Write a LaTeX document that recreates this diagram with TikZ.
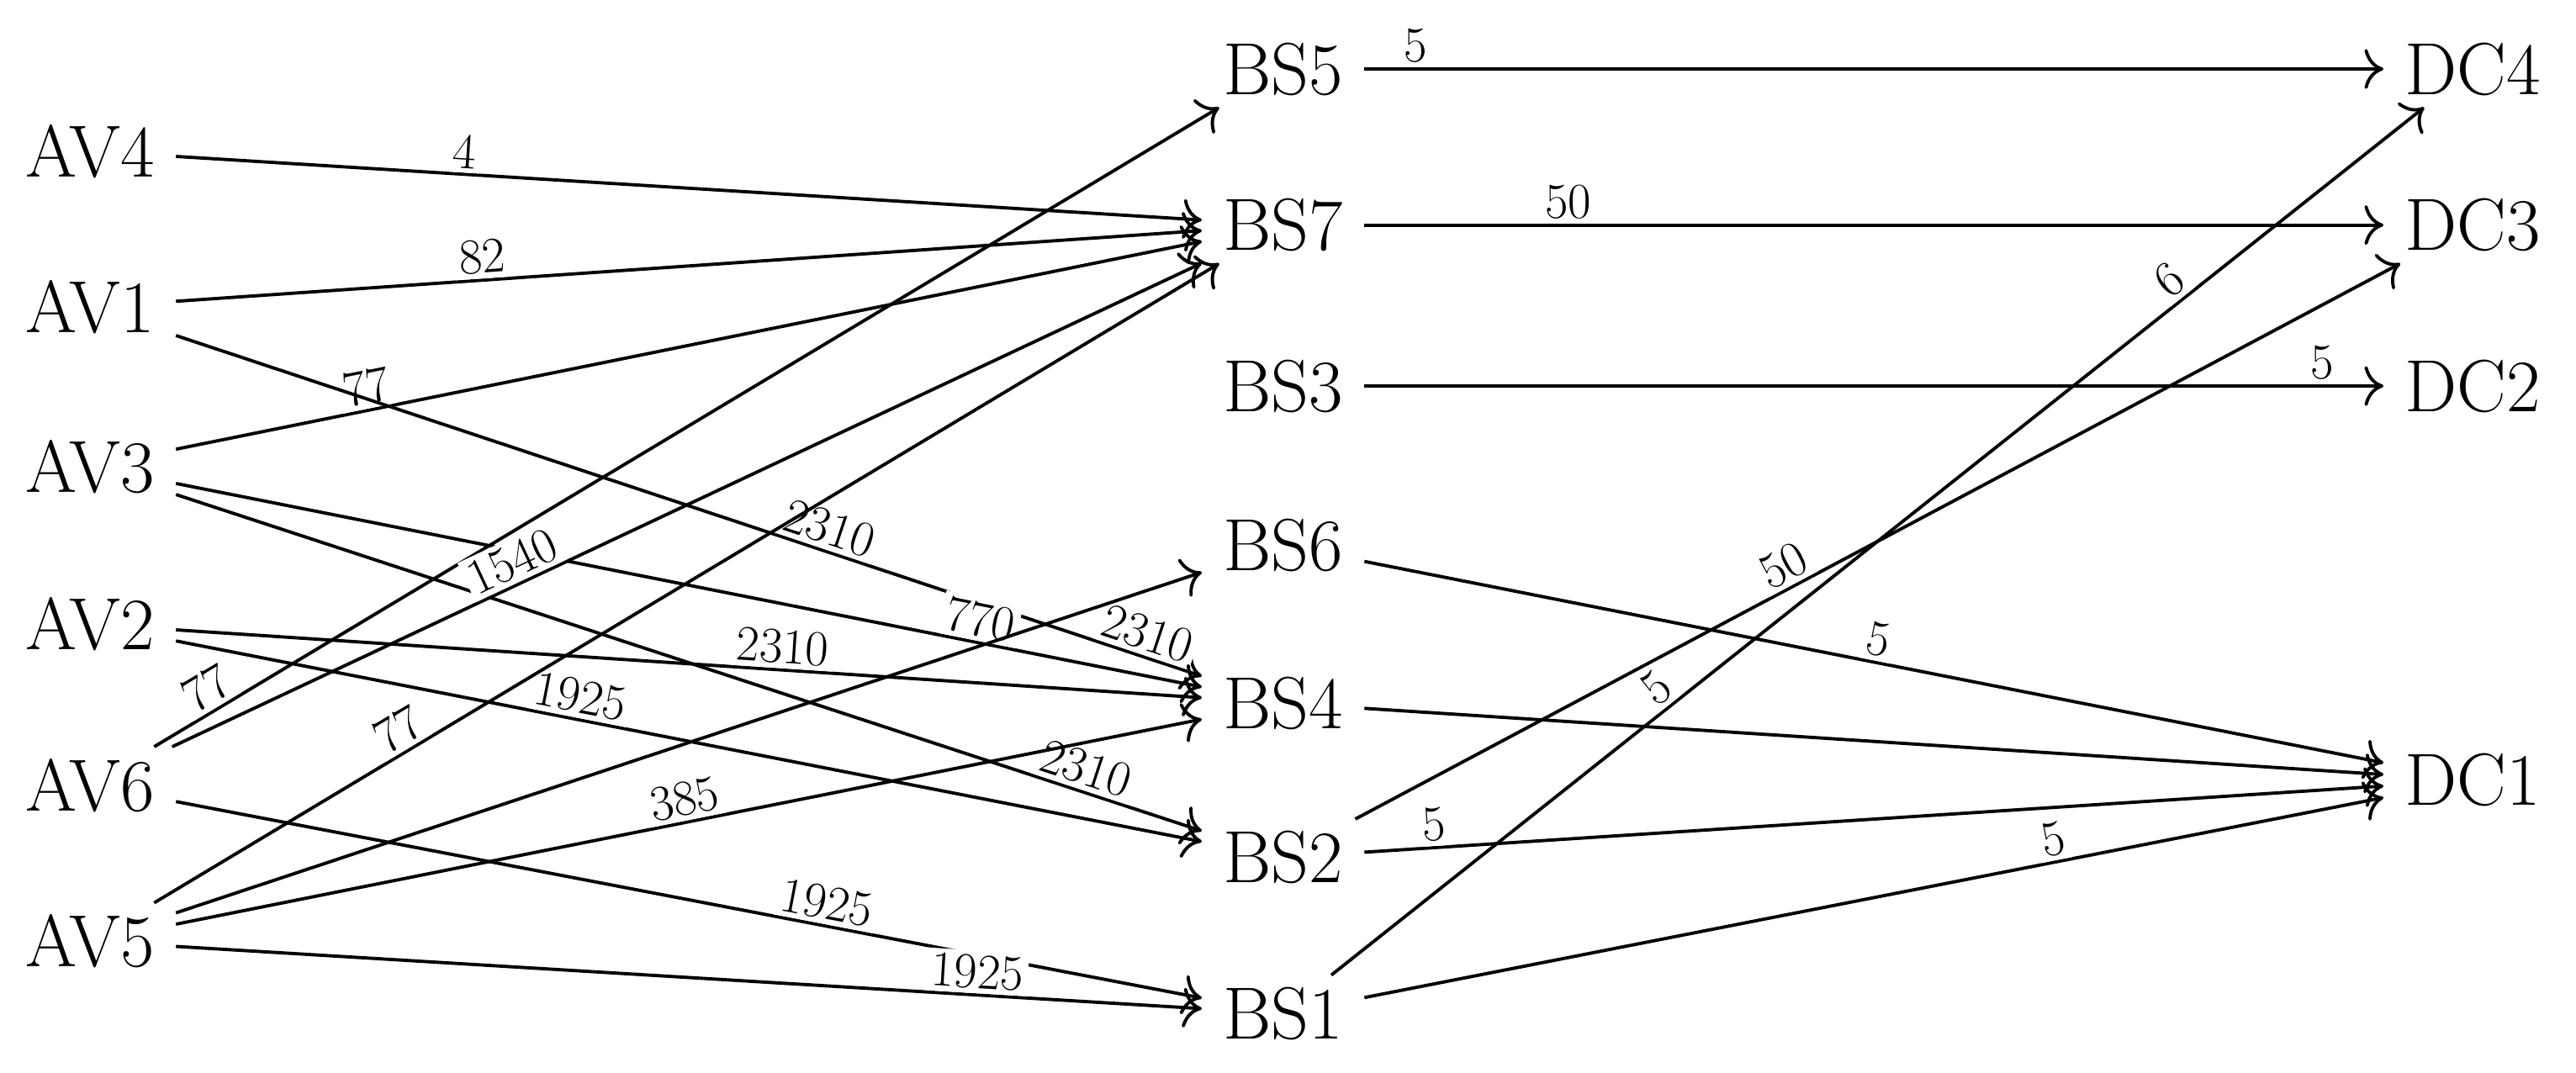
\documentclass[tikz,border=0pt]{standalone}
\usetikzlibrary{arrows.meta}
\begin{document}
\begin{tikzpicture}[x=0.01953cm,y=-0.01953cm,
  n/.style={inner xsep=7pt,minimum height=0.9cm,font=\fontsize{25}{29}\selectfont},
  e/.style={-{To[scale=1.6]},line width=1.1pt},
  l/.style={above,sloped,fill=white,inner sep=1.5pt,font=\fontsize{17}{19}\selectfont}]
\useasboundingbox (0,0) rectangle (1568,653);
\node[n] (AV4) at (55,92) {AV4};
\node[n] (AV1) at (55,187) {AV1};
\node[n] (AV3) at (55,284) {AV3};
\node[n] (AV2) at (55,380) {AV2};
\node[n] (AV6) at (55,478) {AV6};
\node[n] (AV5) at (55,573) {AV5};
\node[n] (BS5) at (781,42) {BS5};
\node[n] (BS7) at (781,137) {BS7};
\node[n] (BS3) at (781,235) {BS3};
\node[n] (BS6) at (781,332) {BS6};
\node[n] (BS4) at (781,428) {BS4};
\node[n] (BS2) at (781,522) {BS2};
\node[n] (BS1) at (781,617) {BS1};
\node[n] (DC4) at (1505,42) {DC4};
\node[n] (DC3) at (1505,137) {DC3};
\node[n] (DC2) at (1505,235) {DC2};
\node[n] (DC1) at (1505,475) {DC1};
\draw[e] (AV4) -- node[l,pos=0.28]{4} (BS7);
\draw[e] (AV1) -- node[l,pos=0.3]{82} (BS7);
\draw[e] (AV3) -- node[l,pos=0.19]{77} (BS7);
\draw[e] (AV1) -- node[l,pos=0.63]{2310} node[l,pos=0.94]{2310} (BS4);
\draw[e] (AV3) -- node[l,pos=0.78]{770} (BS4);
\draw[e] (AV3) -- node[l,pos=0.88]{2310} (BS2);
\draw[e] (AV2) -- node[l,pos=0.59]{2310} (BS4);
\draw[e] (AV2) -- node[l,pos=0.39]{1925} (BS2);
\draw[e] (AV6) -- node[l,pos=0.06]{77} (BS5);
\draw[e] (AV6) -- node[l,pos=0.34]{1540} (BS7);
\draw[e] (AV5) -- node[l,pos=0.24]{77} (BS7);
\draw[e] (AV5) -- (BS6);
\draw[e] (AV5) -- node[l,pos=0.5]{385} (BS4);
\draw[e] (AV6) -- node[l,pos=0.63]{1925} (BS1);
\draw[e] (AV5) -- node[l,pos=0.78]{1925} (BS1);
\draw[e] (BS5) -- node[l,pos=0.05]{5} (DC4);
\draw[e] (BS7) -- node[l,pos=0.2]{50} (DC3);
\draw[e] (BS3) -- node[l,pos=0.94]{5} (DC2);
\draw[e] (BS6) -- node[l,pos=0.5]{5} (DC1);
\draw[e] (BS4) -- (DC1);
\draw[e] (BS2) -- node[l,pos=0.42]{50} (DC3);
\draw[e] (BS2) -- node[l,pos=0.07]{5} (DC1);
\draw[e] (BS1) -- node[l,pos=0.31]{5} node[l,pos=0.78]{6} (DC4);
\draw[e] (BS1) -- node[l,pos=0.68]{5} (DC1);
\end{tikzpicture}
\end{document}
